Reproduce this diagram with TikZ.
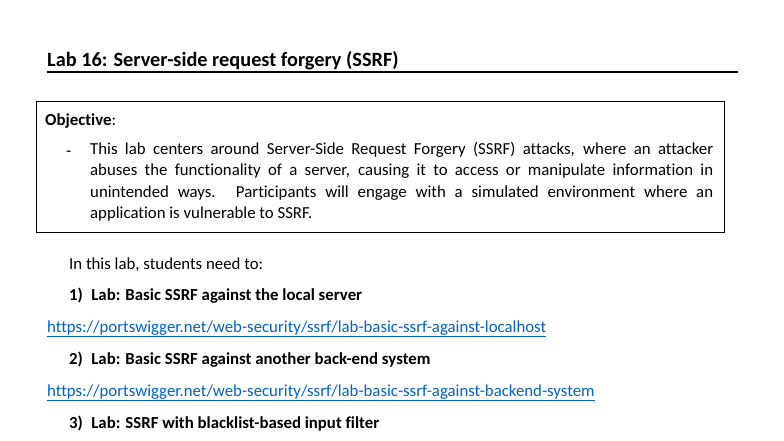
\documentclass[tikz,border=0pt]{standalone}
\usepackage{fontspec}
\setmainfont{Carlito}[Ligatures=NoCommon]
\usetikzlibrary{positioning}
\definecolor{linkblue}{RGB}{5,99,193}
\begin{document}
\begin{tikzpicture}[x=1pt, y=-1pt,
    txt/.style={anchor=base west, inner sep=0pt, font=\fontsize{16.8}{21.5}\selectfont},
    lnk/.style={txt, text=linkblue}]
  \useasboundingbox[fill=white] (0,0) rectangle (784,441);
  % Titel
  \node[txt, font=\fontsize{20.3}{24}\selectfont\bfseries] (title) at (47,67) {Lab 16: Server-side request forgery (SSRF)};
  \coordinate (ulL) at (47,72);
  \coordinate (ulR) at (738,72);
  \draw[line width=1.2pt] (ulL) -- (ulR);
  % Kasten
  \node[draw, line width=1pt, minimum width=688pt, minimum height=131pt, anchor=north west, inner sep=0pt] (box) at (36,101) {};
  \node[txt] (obj) at (45,125) {\textbf{Objective}:};
  \node[txt] (dash) at (66,156) {-};
  \node[txt, anchor=north west, text width=623pt, align=justify] (para) at (90,142)
    {\hyphenpenalty=10000 This lab centers around Server-Side Request Forgery (SSRF) attacks, where an attacker\linebreak abuses the functionality of a server, causing it to access or manipulate information in\linebreak unintended ways. Participants will engage with a simulated environment where an\linebreak application is vulnerable to SSRF.};
  % Aufgaben
  \node[txt] (intro) at (69,269) {In this lab, students need to:};
  \node[txt] (l1) at (69,300) {\textbf{1)\enspace Lab: Basic SSRF against the local server}};
  \node[lnk] (u1) at (47,332) {\underline{https://portswigger.net/web-security/ssrf/lab-basic-ssrf-against-localhost}};
  \node[txt] (l2) at (69,364) {\textbf{2)\enspace Lab: Basic SSRF against another back-end system}};
  \node[lnk] (u2) at (47,396) {\underline{https://portswigger.net/web-security/ssrf/lab-basic-ssrf-against-backend-system}};
  \node[txt] (l3) at (69,428) {\textbf{3)\enspace Lab: SSRF with blacklist-based input filter}};
\end{tikzpicture}
\end{document}
